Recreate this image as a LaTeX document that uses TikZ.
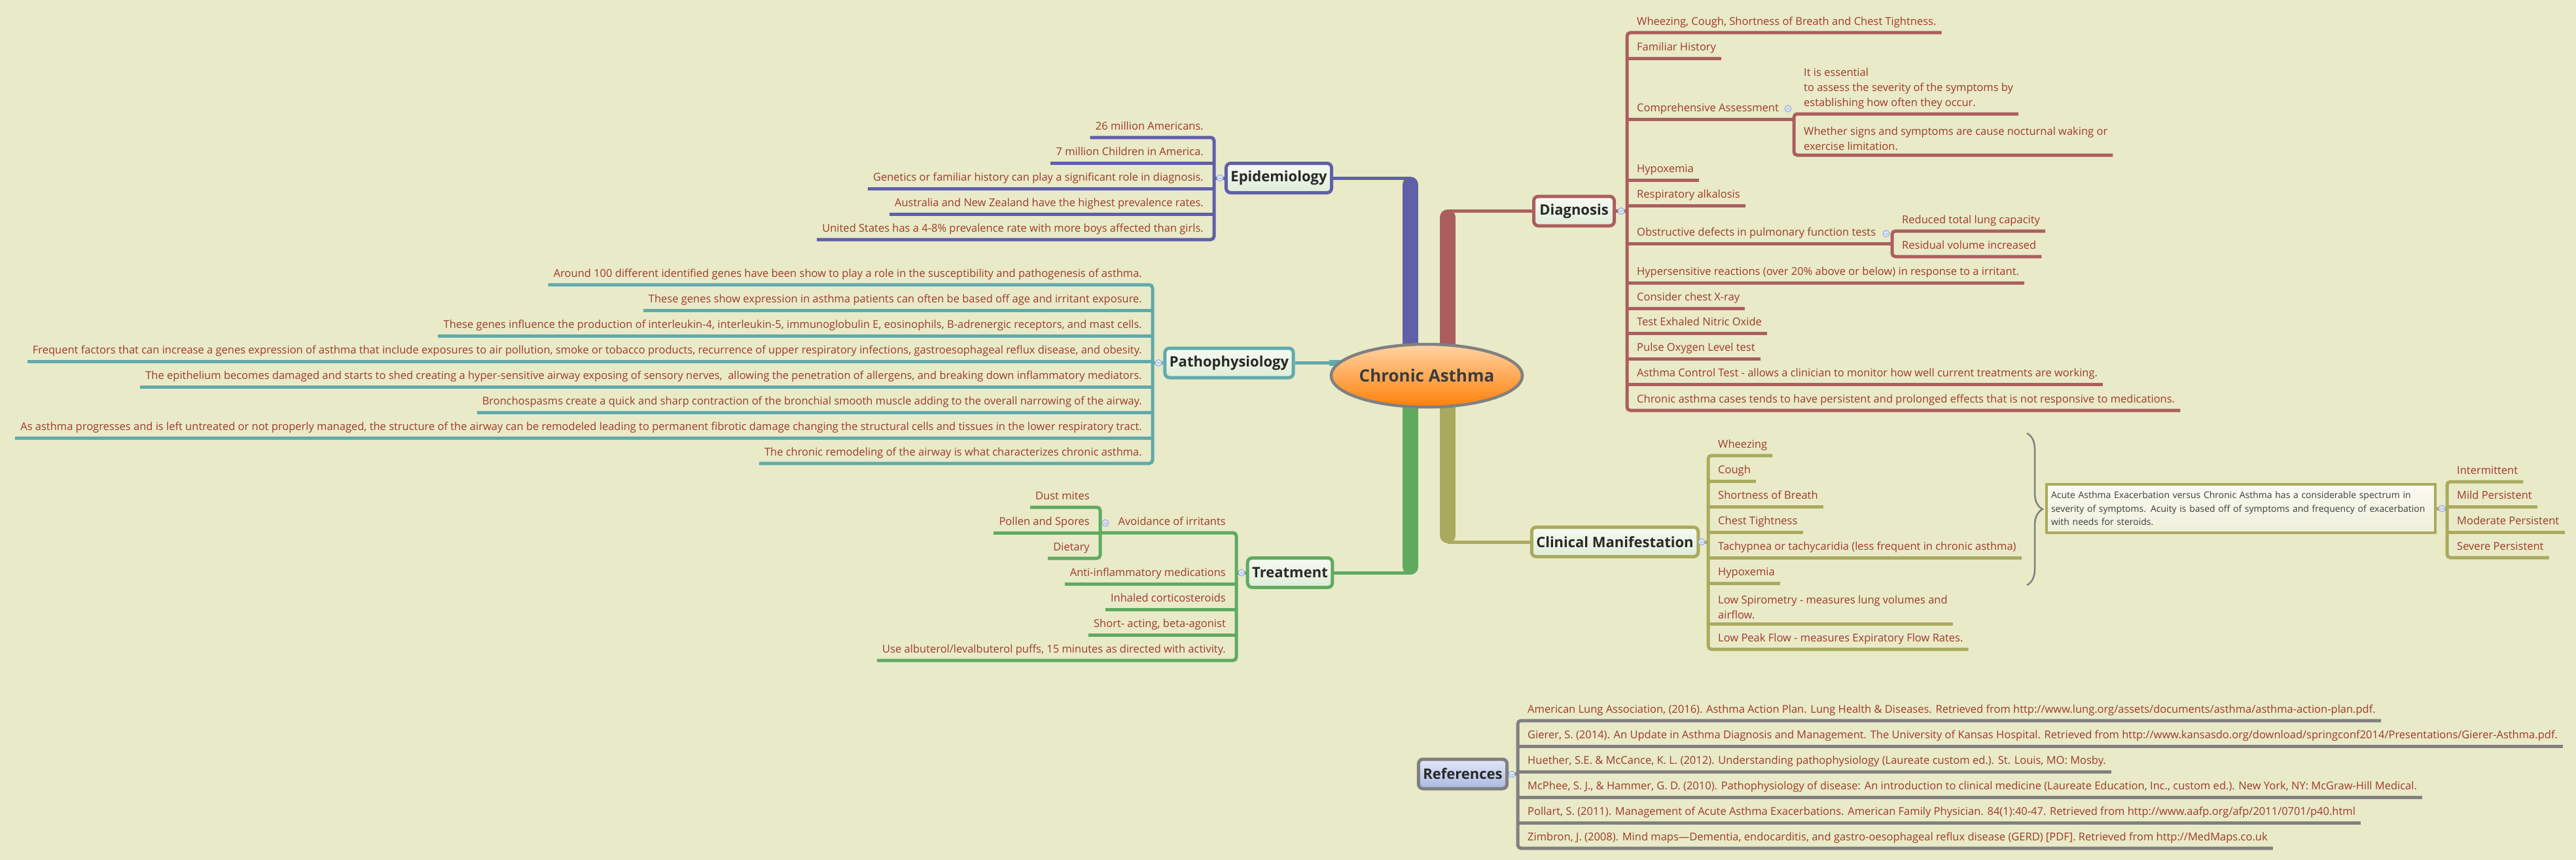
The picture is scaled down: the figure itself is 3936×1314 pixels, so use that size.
\documentclass[tikz,border=0pt]{standalone}
\usepackage{fontspec}
\setmainfont{Open Sans}
\usetikzlibrary{shapes.geometric, decorations.pathreplacing, backgrounds}

\definecolor{bgcol}{RGB}{233,234,200}
\definecolor{leaftxt}{RGB}{158,58,40}
\definecolor{topictxt}{RGB}{40,40,40}
\definecolor{hubtxt}{RGB}{60,60,60}
\definecolor{notetxt}{RGB}{60,60,60}
\definecolor{epicol}{RGB}{96,95,168}
\definecolor{diacol}{RGB}{172,94,94}
\definecolor{patcol}{RGB}{96,170,172}
\definecolor{trtcol}{RGB}{96,170,96}
\definecolor{clincol}{RGB}{170,170,94}
\definecolor{refcol}{RGB}{128,128,128}
\definecolor{boxtop}{RGB}{246,250,242}
\definecolor{boxbot}{RGB}{222,237,214}
\definecolor{reftop}{RGB}{228,232,246}
\definecolor{refbot}{RGB}{170,184,226}
\definecolor{hubtop}{RGB}{255,212,165}
\definecolor{hubbot}{RGB}{255,128,8}
\definecolor{notetop}{RGB}{250,250,242}
\definecolor{notebot}{RGB}{238,240,218}
\definecolor{foldfill}{RGB}{220,228,248}
\definecolor{foldedge}{RGB}{150,170,220}

\newcommand{\leaffont}{\fontsize{16.5}{23}\selectfont}
\newcommand{\topicfont}{\fontsize{22}{26}\selectfont\bfseries}
\newcommand{\hubfont}{\fontsize{26}{30}\selectfont\bfseries}
\newcommand{\notefont}{\fontsize{14}{20.5}\selectfont}

\begin{document}
\begin{tikzpicture}[x=1pt, y=-1pt,
    hub/.style={ellipse, draw=refcol, line width=4.5, top color=hubtop, bottom color=hubbot,
        minimum width=273, minimum height=96, inner sep=0, font=\hubfont, text=hubtxt},
    topic/.style={rectangle, rounded corners=7, line width=5, top color=boxtop, bottom color=boxbot,
        minimum height=45, inner xsep=7, font=\topicfont, text=topictxt},
    note/.style={rectangle, draw=clincol, line width=4.5, top color=notetop, bottom color=notebot,
        text width=580, align=left, minimum height=74, inner xsep=7, font=\notefont, text=notetxt},
    leaf/.style={font=\leaffont, text=leaftxt, inner xsep=8, inner ysep=7},
    leafL/.style={leaf, anchor=south east, text depth=4},
    leafR/.style={leaf, anchor=south west, text depth=4},
    leafRm/.style={leaf, anchor=south west, align=left},
    fold/.style={circle, draw=foldedge, fill=foldfill, line width=1, minimum size=10, inner sep=0,
        path picture={\draw[foldedge, line width=1] ([xshift=-2.5]path picture bounding box.center)
            -- ([xshift=2.5]path picture bounding box.center);}},
    twig/.style={line width=5, rounded corners=5},
    trunk/.style={line width=24, line cap=round},
    sumbrace/.style={decorate, decoration={brace, amplitude=24}, draw=refcol, line width=2.5}
]
\useasboundingbox (0,0) rectangle (3936,1314);

% centre and main topics
\node[hub] (ca) at (2180,574) {Chronic Asthma};
\node[topic, draw=epicol, minimum width=161] (epi) at (1954,272) {Epidemiology};
\node[topic, draw=patcol, minimum width=195] (pat) at (1878,554.5) {Pathophysiology};
\node[topic, draw=trtcol, minimum width=127] (trt) at (1971,875) {Treatment};
\node[topic, draw=diacol, minimum width=123] (dia) at (2405,322.5) {Diagnosis};
\node[topic, draw=clincol, minimum width=244] (cln) at (2467.5,828) {Clinical Manifestation};
\node[topic, draw=refcol, top color=reftop, bottom color=refbot, minimum width=131] (ref) at (2235,1182.5) {References};

% knees of the trunks and bracket positions
\coordinate (epiK) at (2155,282);
\coordinate (diaK) at (2212,332);
\coordinate (trtK) at (2155,866);
\coordinate (clnK) at (2212,818);
\coordinate (epiB) at (1855,0);
\coordinate (patB) at (1761,0);
\coordinate (trtB) at (1889,0);
\coordinate (avB) at (1681,0);
\coordinate (diaB) at (2486,0);
\coordinate (caB) at (2741,0);
\coordinate (obB) at (2891,0);
\coordinate (clB) at (2610,0);
\coordinate (acB) at (3739,0);
\coordinate (refB) at (2319,0);

% Epidemiology
\node[leafL] (e1) at (1847,210) {26 million Americans.};
\node[leafL] (e2) at (1847,249) {7 million Children in America.};
\node[leafL] (e3) at (1847,288) {Genetics or familiar history can play a significant role in diagnosis.};
\node[leafL] (e4) at (1847,327) {Australia and New Zealand have the highest prevalence rates.};
\node[leafL] (e5) at (1847,366) {United States has a 4-8\% prevalence rate with more boys affected than girls.};

% Pathophysiology
\node[leafL] (p1) at (1753,435) {Around 100 different identified genes have been show to play a role in the susceptibility and pathogenesis of asthma.};
\node[leafL] (p2) at (1753,474) {These genes show expression in asthma patients can often be based off age and irritant exposure.};
\node[leafL] (p3) at (1753,513) {These genes influence the production of interleukin-4, interleukin-5, immunoglobulin E, eosinophils, B-adrenergic receptors, and mast cells.};
\node[leafL] (p4) at (1753,552) {Frequent factors that can increase a genes expression of asthma that include exposures to air pollution, smoke or tobacco products, recurrence of upper respiratory infections, gastroesophageal reflux disease, and obesity.};
\node[leafL] (p5) at (1753,591) {The epithelium becomes damaged and starts to shed creating a hyper-sensitive airway exposing of sensory nerves,\ \ allowing the penetration of allergens, and breaking down inflammatory mediators.};
\node[leafL] (p6) at (1753,630) {Bronchospasms create a quick and sharp contraction of the bronchial smooth muscle adding to the overall narrowing of the airway.};
\node[leafL] (p7) at (1753,669) {As asthma progresses and is left untreated or not properly managed, the structure of the airway can be remodeled leading to permanent fibrotic damage changing the structural cells and tissues in the lower respiratory tract.};
\node[leafL] (p8) at (1753,708) {The chronic remodeling of the airway is what characterizes chronic asthma.};

% Treatment
\node[leafL] (t1) at (1881,814) {Avoidance of irritants};
\node[leafL] (a1) at (1673,775) {Dust mites};
\node[leafL] (a2) at (1673,814) {Pollen and Spores};
\node[leafL] (a3) at (1673,853) {Dietary};
\node[leafL] (t2) at (1881,892) {Anti-inflammatory medications};
\node[leafL] (t3) at (1881,931) {Inhaled corticosteroids};
\node[leafL] (t4) at (1881,970) {Short- acting, beta-agonist};
\node[leafL] (t5) at (1881,1009) {Use albuterol/levalbuterol puffs, 15 minutes as directed with activity.};

% Diagnosis
\node[leafR] (d1) at (2493,50) {Wheezing, Cough, Shortness of Breath and Chest Tightness.};
\node[leafR] (d2) at (2493,89) {Familiar History};
\node[leafR] (d3) at (2493,182) {Comprehensive Assessment};
\node[leafRm] (c1) at (2748,174) {It is essential\\to assess the severity of the symptoms by\\establishing how often they occur.};
\node[leafRm] (c2) at (2748,237) {Whether signs and symptoms are cause nocturnal waking or\\exercise limitation.};
\node[leafR] (d4) at (2493,275) {Hypoxemia};
\node[leafR] (d5) at (2493,314) {Respiratory alkalosis};
\node[leafR] (d6) at (2493,372) {Obstructive defects in pulmonary function tests};
\node[leafR] (o1) at (2898,353) {Reduced total lung capacity};
\node[leafR] (o2) at (2898,392) {Residual volume increased};
\node[leafR] (d7) at (2493,432) {Hypersensitive reactions (over 20\% above or below) in response to a irritant.};
\node[leafR] (d8) at (2493,471) {Consider chest X-ray};
\node[leafR] (d9) at (2493,509) {Test Exhaled Nitric Oxide};
\node[leafR] (d10) at (2493,548) {Pulse Oxygen Level test};
\node[leafR] (d11) at (2493,587) {Asthma Control Test - allows a clinician to monitor how well current treatments are working.};
\node[leafR] (d12) at (2493,627) {Chronic asthma cases tends to have persistent and prolonged effects that is not responsive to medications.};

% Clinical Manifestation
\node[leafR] (m1) at (2617,696) {Wheezing};
\node[leafR] (m2) at (2617,735) {Cough};
\node[leafR] (m3) at (2617,774) {Shortness of Breath};
\node[leafR] (m4) at (2617,813) {Chest Tightness};
\node[leafR] (m5) at (2617,852) {Tachypnea or tachycaridia (less frequent in chronic asthma)};
\node[leafR] (m6) at (2617,891) {Hypoxemia};
\node[leafRm] (m7) at (2617,953) {Low Spirometry - measures lung volumes and\\airflow.};
\node[leafR] (m8) at (2617,992) {Low Peak Flow - measures Expiratory Flow Rates.};

\node[note] (acute) at (3424,777) {Acute Asthma Exacerbation versus Chronic Asthma has a considerable spectrum in\\severity of symptoms. Acuity is based off of symptoms and frequency of exacerbation\\with needs for steroids.};
\node[leafR] (s1) at (3746,736) {Intermittent};
\node[leafR] (s2) at (3746,774) {Mild Persistent};
\node[leafR] (s3) at (3746,813) {Moderate Persistent};
\node[leafR] (s4) at (3746,852) {Severe Persistent};
\coordinate (brT) at (3097,662);
\coordinate (brB) at (3097,894);

% References
\node[leafR] (r1) at (2326,1101) {American Lung Association, (2016). Asthma Action Plan. Lung Health \& Diseases. Retrieved from http://www.lung.org/assets/documents/asthma/asthma-action-plan.pdf.};
\node[leafR] (r2) at (2326,1140) {Gierer, S. (2014). An Update in Asthma Diagnosis and Management. The University of Kansas Hospital. Retrieved from http://www.kansasdo.org/download/springconf2014/Presentations/Gierer-Asthma.pdf.};
\node[leafR] (r3) at (2326,1179) {Huether, S.E. \& McCance, K. L. (2012). Understanding pathophysiology (Laureate custom ed.). St. Louis, MO: Mosby.};
\node[leafR] (r4) at (2326,1218) {McPhee, S. J., \& Hammer, G. D. (2010). Pathophysiology of disease: An introduction to clinical medicine (Laureate Education, Inc., custom ed.). New York, NY: McGraw-Hill Medical.};
\node[leafR] (r5) at (2326,1257) {Pollart, S. (2011). Management of Acute Asthma Exacerbations. American Family Physician. 84(1):40-47. Retrieved from http://www.aafp.org/afp/2011/0701/p40.html};
\node[leafR] (r6) at (2326,1296) {Zimbron, J. (2008). Mind maps—Dementia, endocarditis, and gastro-oesophageal reflux disease (GERD) [PDF]. Retrieved from http://MedMaps.co.uk};

% fold markers
\node[fold] (fEpi) at (1864,272) {};
\node[fold] (fPat) at (1770,554.5) {};
\node[fold] (fTrt) at (1897,875) {};
\node[fold] (fAv) at (1689,799) {};
\node[fold] (fDia) at (2477,322.5) {};
\node[fold] (fCa) at (2732,166) {};
\node[fold] (fOb) at (2882,357) {};
\node[fold] (fCln) at (2600,828) {};
\node[fold] (fAc) at (3731,777) {};
\node[fold] (fRef) at (2310,1183) {};

\begin{scope}[on background layer]
    \fill[bgcol] (0,0) rectangle (3936,1314);

    % trunks from the centre
    \draw[trunk, epicol] (ca.center -| epiK) -- (epiK);
    \draw[trunk, diacol] (ca.center -| diaK) -- (diaK);
    \draw[trunk, trtcol] (ca.center -| trtK) -- (trtK);
    \draw[trunk, clincol] (ca.center -| clnK) -- (clnK);
    \draw[twig, epicol] (epi.east) -- (epi.east -| epiK);
    \draw[twig, diacol] (dia.west) -- (dia.west -| diaK);
    \draw[twig, trtcol] (trt.east) -- (trt.east -| trtK);
    \draw[twig, clincol] (cln.west) -- (cln.west -| clnK);
    \draw[twig, patcol] (pat.east) -- (pat.east -| ca.center);
    \draw[patcol, line width=9] ([xshift=52]pat.east) -- ([xshift=95]pat.east);

    % Epidemiology
    \draw[twig, epicol] (epi.west) -- (epi.west -| epiB);
    \draw[twig, epicol] (e1.south west) -| (e5.south -| epiB) -- (e5.south west);
    \draw[twig, epicol] (e2.south west) -- (e2.south -| epiB);
    \draw[twig, epicol] (e3.south west) -- (e3.south -| epiB);
    \draw[twig, epicol] (e4.south west) -- (e4.south -| epiB);

    % Pathophysiology
    \draw[twig, patcol] (pat.west) -- (pat.west -| patB);
    \draw[twig, patcol] (p1.south west) -| (p8.south -| patB) -- (p8.south west);
    \draw[twig, patcol] (p2.south west) -- (p2.south -| patB);
    \draw[twig, patcol] (p3.south west) -- (p3.south -| patB);
    \draw[twig, patcol] (p4.south west) -- (p4.south -| patB);
    \draw[twig, patcol] (p5.south west) -- (p5.south -| patB);
    \draw[twig, patcol] (p6.south west) -- (p6.south -| patB);
    \draw[twig, patcol] (p7.south west) -- (p7.south -| patB);

    % Treatment
    \draw[twig, trtcol] (trt.west) -- (trt.west -| trtB);
    \draw[twig, trtcol] (t1.south -| avB) -| (t5.south -| trtB) -- (t5.south west);
    \draw[twig, trtcol] (t2.south west) -- (t2.south -| trtB);
    \draw[twig, trtcol] (t3.south west) -- (t3.south -| trtB);
    \draw[twig, trtcol] (t4.south west) -- (t4.south -| trtB);
    \draw[twig, trtcol] (a1.south west) -| (a3.south -| avB) -- (a3.south west);
    \draw[twig, trtcol] (a2.south west) -- (a2.south -| avB);

    % Diagnosis
    \draw[twig, diacol] (dia.east) -- (dia.east -| diaB);
    \draw[twig, diacol] (d1.south east) -| (d12.south -| diaB) -- (d12.south east);
    \draw[twig, diacol] (d2.south -| diaB) -- (d2.south east);
    \draw[twig, diacol] (d3.south -| diaB) -- (d3.south -| caB);
    \draw[twig, diacol] (c1.south east) -| (c2.south -| caB) -- (c2.south east);
    \draw[twig, diacol] (d4.south -| diaB) -- (d4.south east);
    \draw[twig, diacol] (d5.south -| diaB) -- (d5.south east);
    \draw[twig, diacol] (d6.south -| diaB) -- (d6.south -| obB);
    \draw[twig, diacol] (o1.south east) -| (o2.south -| obB) -- (o2.south east);
    \draw[twig, diacol] (d7.south -| diaB) -- (d7.south east);
    \draw[twig, diacol] (d8.south -| diaB) -- (d8.south east);
    \draw[twig, diacol] (d9.south -| diaB) -- (d9.south east);
    \draw[twig, diacol] (d10.south -| diaB) -- (d10.south east);
    \draw[twig, diacol] (d11.south -| diaB) -- (d11.south east);

    % Clinical Manifestation
    \draw[twig, clincol] (cln.east) -- (cln.east -| clB);
    \draw[twig, clincol] (m1.south east) -| (m8.south -| clB) -- (m8.south east);
    \draw[twig, clincol] (m2.south -| clB) -- (m2.south east);
    \draw[twig, clincol] (m3.south -| clB) -- (m3.south east);
    \draw[twig, clincol] (m4.south -| clB) -- (m4.south east);
    \draw[twig, clincol] (m5.south -| clB) -- (m5.south east);
    \draw[twig, clincol] (m6.south -| clB) -- (m6.south east);
    \draw[twig, clincol] (m7.south -| clB) -- (m7.south east);
    \draw[sumbrace] (brT) -- (brB);
    \draw[twig, clincol] (acute.east) -- (acute.east -| acB);
    \draw[twig, clincol] (s1.south east) -| (s4.south -| acB) -- (s4.south east);
    \draw[twig, clincol] (s2.south -| acB) -- (s2.south east);
    \draw[twig, clincol] (s3.south -| acB) -- (s3.south east);

    % References
    \draw[twig, refcol] (ref.east) -- (ref.east -| refB);
    \draw[twig, refcol] (r1.south east) -| (r6.south -| refB) -- (r6.south east);
    \draw[twig, refcol] (r2.south -| refB) -- (r2.south east);
    \draw[twig, refcol] (r3.south -| refB) -- (r3.south east);
    \draw[twig, refcol] (r4.south -| refB) -- (r4.south east);
    \draw[twig, refcol] (r5.south -| refB) -- (r5.south east);
\end{scope}
\end{tikzpicture}
\end{document}
